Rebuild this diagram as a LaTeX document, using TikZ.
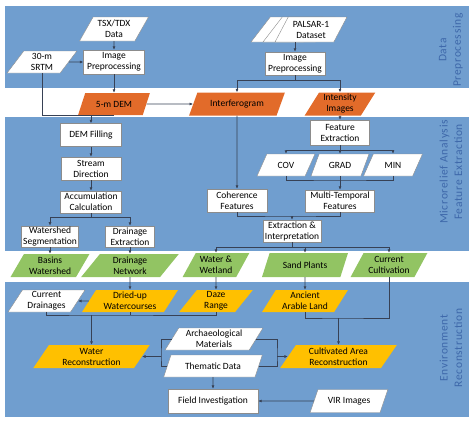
\documentclass[tikz,border=0pt]{standalone}
\usepackage{fontspec}
\setmainfont{Carlito}
\newfontfamily\bandfont[LetterSpace=6]{Carlito}
\usetikzlibrary{shapes.geometric,arrows.meta}

\definecolor{bandblue}{RGB}{112,158,207}
\definecolor{bandtext}{RGB}{62,104,170}
\definecolor{demorange}{RGB}{226,107,42}
\definecolor{leafgreen}{RGB}{146,196,99}
\definecolor{gold}{RGB}{255,192,0}
\definecolor{wire}{RGB}{55,65,85}

\tikzstyle{whitebox}=[rectangle, draw=black!45, line width=0.4pt, fill=white,
	align=center, inner sep=1pt, font=\fontsize{9.5}{11}\selectfont]
\tikzstyle{whitepara}=[whitebox, trapezium, trapezium left angle=60,
	trapezium right angle=120, trapezium stretches=true]
\tikzstyle{orangepara}=[whitepara, fill=demorange, draw=none]
\tikzstyle{greenpara}=[whitepara, fill=leafgreen, draw=none]
\tikzstyle{goldpara}=[whitepara, fill=gold, draw=none]
\tikzstyle{band}=[fill=bandblue, draw=none]
\tikzstyle{bandlabel}=[rotate=90, align=center, text=bandtext,
	font=\bandfont\fontsize{11.5}{14.5}\selectfont]
\tikzstyle{link}=[draw=wire, line width=0.6pt]
\tikzstyle{arr}=[-{Latex[length=3.5pt,width=3pt]}]
\tikzset{sz/.style 2 args={minimum width=#1pt, minimum height=#2pt}}

\begin{document}
\begin{tikzpicture}[x=1pt, y=-1pt]
	\useasboundingbox (0,0) rectangle (474,423);
	\fill[band] (5,6) rectangle (469,88);
	\fill[band] (5,117) rectangle (469,251);
	\fill[band] (5,282) rectangle (469,417);

	\node[bandlabel] (lab1) at (451,50) {Data\\Preprocessing};
	\node[bandlabel] (lab2) at (451,172) {Microrelief Analysis\\Feature Extraction};
	\node[bandlabel] (lab3) at (451,348) {Environment\\Reconstruction};

	\node[whitepara, sz={69}{24}] (tsx)    at (114,29)    {TSX/TDX\\Data};
	\node[whitebox,  sz={61}{24}] (prep1)  at (114,62)    {Image\\Preprocessing};
	\node[whitepara, sz={70}{22}] (srtm)   at (42,62)     {30-m\\SRTM};
	\node[whitepara, sz={72}{25}] (pal3)   at (287,29.5)  {};
	\node[whitepara, sz={72}{25}] (pal2)   at (299,29.5)  {};
	\node[whitepara, sz={72}{25}] (pal)    at (311,29.5)  {PALSAR-1\\Dataset};
	\node[whitebox,  sz={60}{23}] (prep2)  at (295,63.5)  {Image\\Preprocessing};

	\node[orangepara, sz={72}{22}] (dem)    at (114,104) {5-m DEM};
	\node[orangepara, sz={96}{23}] (interf) at (237,104) {Interferogram};
	\node[orangepara, sz={71}{23}] (intens) at (340,104) {Intensity\\Images};

	\node[whitebox, sz={61}{23}] (fill)   at (91,135)    {DEM Filling};
	\node[whitebox, sz={60}{23}] (stream) at (91,168.5)  {Stream\\Direction};
	\node[whitebox, sz={61}{22}] (accum)  at (91,202)    {Accumulation\\Calculation};
	\node[whitebox, sz={57}{21}] (wseg)   at (50,236.5)  {Watershed\\Segmentation};
	\node[whitebox, sz={49}{21}] (dext)   at (130,236.5) {Drainage\\Extraction};

	\node[whitebox,  sz={59}{25}] (featx) at (340,132.5) {Feature\\Extraction};
	\node[whitepara, sz={58}{22}] (cov)   at (286,165)   {COV};
	\node[whitepara, sz={58}{22}] (grad)  at (340,165)   {GRAD};
	\node[whitepara, sz={59}{22}] (mini)  at (393,165)   {MIN};
	\node[whitebox,  sz={60}{23}] (coh)   at (237,200.5) {Coherence\\Features};
	\node[whitebox,  sz={69}{22}] (multi) at (340,201)   {Multi-Temporal\\Features};
	\node[whitebox,  sz={58}{22}] (extr)  at (292,231)   {Extraction \&\\Interpretation};

	\node[greenpara, sz={79}{23}] (basins)  at (50,265.5)  {Basins\\Watershed};
	\node[greenpara, sz={98}{23}] (dnet)    at (130,265.5) {Drainage\\Network};
	\node[greenpara, sz={67}{24}] (wwet)    at (216,265)   {Water \&\\Wetland};
	\node[greenpara, sz={86}{24}] (sand)    at (305,265)   {Sand Plants};
	\node[greenpara, sz={77}{24}] (curcult) at (389,265)   {Current\\Cultivation};

	\node[whitepara, sz={77}{22}] (curdr)   at (46.5,301)  {Current\\Drainages};
	\node[goldpara,  sz={96}{22}] (dried)   at (130,301)   {Dried-up\\Watercourses};
	\node[goldpara,  sz={74}{22}] (daze)    at (216,301)   {Daze\\Range};
	\node[goldpara,  sz={86}{22}] (ancient) at (305,301)   {Ancient\\Arable Land};

	\node[goldpara,  sz={117}{23}] (waterrec) at (91.5,356.5)  {Water\\Reconstruction};
	\node[whitepara, sz={98}{22}]  (archmat)  at (214,339)     {Archaeological\\Materials};
	\node[whitepara, sz={99}{22}]  (thematic) at (213,366)     {Thematic Data};
	\node[goldpara,  sz={117}{23}] (cultrec)  at (338.5,356.5) {Cultivated Area\\Reconstruction};
	\node[whitebox,  sz={90}{24}]  (field)    at (213,401)     {Field Investigation};
	\node[whitepara, sz={78}{23}]  (vir)      at (349,401)     {VIR Images};

	\coordinate (split1) at (295,80);
	\coordinate (split2) at (91,217);
	\coordinate (split3) at (340,150);
	\coordinate (merge1) at (340,180);
	\coordinate (merge2) at (292,216);
	\coordinate (split4) at (292,247);
	\coordinate (merge3) at (91.5,315);
	\coordinate (merge4) at (338.5,318);
	\coordinate (merge5) at (161,356.5);
	\coordinate (merge6) at (277,356.5);

	\foreach \a/\b in {tsx/prep1, srtm/prep1, prep1/dem, dem/interf, interf/coh,
		intens/featx, fill/stream, stream/accum, wseg/basins, dext/dnet,
		dnet/dried, wwet/daze, sand/ancient, dried/curdr, thematic/field, vir/field} {
		\draw[link, arr] (\a) -- (\b);
	};

	\draw[link] (srtm) |- (dem.south);
	\draw[link, arr] (fill |- dem.south) -- (fill);
	\draw[link, arr] (prep2 |- pal.south) -- (prep2);

	\draw[link] (prep2) -- (split1);
	\draw[link, arr] (split1) -| (interf);
	\draw[link, arr] (split1) -| (intens);

	\draw[link] (accum) -- (split2);
	\draw[link, arr] (split2) -| (wseg);
	\draw[link, arr] (split2) -| (dext);

	\draw[link] (featx) -- (split3);
	\foreach \n in {cov, grad, mini} {
		\draw[link, arr] (split3) -| (\n);
	};
	\draw[link] (cov) |- (merge1) -| (mini);
	\draw[link] (grad) -- (merge1);
	\draw[link, arr] (merge1) -- (multi);

	\draw[link] (coh) |- (merge2) -| (multi);
	\draw[link, arr] (merge2) -- (extr);

	\draw[link] (extr) -- (split4);
	\foreach \n in {wwet, sand, curcult} {
		\draw[link, arr] (split4) -| (\n);
	};

	\draw[link] (curdr) |- (merge3) -| (daze);
	\draw[link] (dried) -- (dried |- merge3);
	\draw[link, arr] (merge3) -- (waterrec);

	\draw[link] (ancient) |- (merge4) -| (curcult);
	\draw[link, arr] (merge4) -- (cultrec);

	\draw[link] (archmat.west) -| (merge5) |- (thematic.west);
	\draw[link, arr] (merge5) -- (waterrec);
	\draw[link] (archmat.east) -| (merge6) |- (thematic.east);
	\draw[link, arr] (merge6) -- (cultrec);
\end{tikzpicture}
\end{document}
